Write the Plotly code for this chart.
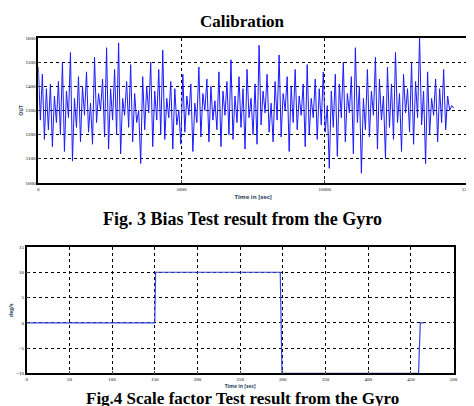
import plotly.graph_objects as go
from plotly.subplots import make_subplots

bias_values = [
    1480, 1260, 1450, 1180, 1390, 1220, 1410, 1150, 1360, 1250, 1420, 1200, 1500, 1130, 1380, 1270,
    1540, 1090, 1350, 1230, 1440, 1170, 1400, 1280, 1460, 1210, 1330, 1160, 1520, 1250, 1370, 1300,
    1430, 1190, 1560, 1140, 1390, 1260, 1470, 1200, 1580, 1120, 1350, 1280, 1420, 1230, 1490, 1170,
    1370, 1250, 1300, 1080, 1440, 1220, 1400, 1290, 1500, 1150, 1380, 1260, 1470, 1200, 1550, 1180,
    1350, 1270, 1420, 1140, 1390, 1240, 1300, 1160, 1450, 1210, 1360, 1280, 1410, 1130, 1330, 1250,
    1480, 1190, 1370, 1300, 1430, 1170, 1400, 1260, 1340, 1220, 1460, 1150, 1380, 1280, 1420, 1200,
    1510, 1180, 1360, 1250, 1440, 1230, 1390, 1140, 1470, 1270, 1350, 1200, 1410, 1160, 1570, 1240,
    1380, 1290, 1450, 1210, 1330, 1170, 1420, 1260, 1530, 1190, 1370, 1300, 1440, 1130, 1400, 1250,
    1470, 1220, 1360, 1280, 1410, 1150, 1490, 1200, 1350, 1270, 1430, 1180, 1390, 1240, 1460, 1210,
    1320, 1060, 1380, 1230, 1450, 1110, 1410, 1270, 1500, 1170, 1370, 1290, 1440, 1120, 1560, 1250,
    1400, 1040, 1350, 1220, 1470, 1190, 1380, 1280, 1520, 1140, 1430, 1260, 1360, 1100, 1480, 1230,
    1410, 1180, 1540, 1250, 1370, 1130, 1450, 1290, 1390, 1210, 1500, 1160, 1420, 1270, 1600, 1240,
    1380, 1080, 1460, 1200, 1350, 1280, 1430, 1170, 1390, 1250, 1470, 1220, 1360, 1300, 1320, 1310,
]
bias_t_end = 14500

# Fig. 4 scale factor test: step profile
step_t = [0, 150, 151, 297, 299, 459, 461, 465]
step_v = [0, 0, 10, 10, -10, -10, 0, 0]

bias_t = [i * bias_t_end / (len(bias_values) - 1) for i in range(len(bias_values))]

fig = make_subplots(rows=2, cols=1)

fig.add_trace(go.Scatter(x=bias_t, y=bias_values, mode='lines',
                         line=dict(color='#1a1aff', width=1)), row=1, col=1)
fig.add_trace(go.Scatter(x=step_t, y=step_v, mode='lines',
                         line=dict(color='#3344dd', width=1.2)), row=2, col=1)

axis_style = dict(showline=True, linecolor='black', linewidth=1.5, mirror=True,
                  showgrid=True, gridcolor='black', griddash='dot', gridwidth=1,
                  zeroline=False, ticks='inside', ticklen=3, tickformat='d',
                  tickfont=dict(size=5, family='Liberation Serif', color='black'))

fig.update_xaxes(axis_style)
fig.update_yaxes(axis_style)

fig.update_xaxes(domain=[0.063, 0.985], range=[0, 15000], dtick=5000,
                 title=dict(text='<b>Time in [sec]</b>', font=dict(size=6), standoff=4), row=1, col=1)
fig.update_yaxes(domain=[0.569, 0.93], range=[1000, 1600], dtick=100,
                 title=dict(text='<b>OUT</b>', font=dict(size=5), standoff=2), row=1, col=1)
fig.update_xaxes(domain=[0.038, 0.954], range=[0, 500], dtick=50,
                 title=dict(text='<b>Time in [sec]</b>', font=dict(size=5), standoff=3), row=2, col=1)
fig.update_yaxes(domain=[0.094, 0.409], range=[-10, 15], dtick=5,
                 title=dict(text='<b>deg/s</b>', font=dict(size=5), standoff=2), row=2, col=1)

serif = dict(family='Liberation Serif', color='black')
fig.add_annotation(text='<b>Calibration</b>', xref='paper', yref='paper', x=0.5, y=1.0,
                   yanchor='top', showarrow=False, font=dict(size=17, **serif))
fig.add_annotation(text='<b>Fig. 3 Bias Test result from the Gyro</b>', xref='paper', yref='paper',
                   x=0.5, y=0.478, showarrow=False, font=dict(size=18, **serif))
fig.add_annotation(text='<b>Fig.4 Scale factor Test result from the Gyro</b>', xref='paper',
                   yref='paper', x=0.5, y=0.003, yanchor='bottom', showarrow=False,
                   font=dict(size=17, **serif))

fig.update_layout(width=474, height=406, margin=dict(l=0, r=0, t=0, b=0),
                  showlegend=False, plot_bgcolor='white', paper_bgcolor='white')

fig.write_html("out.html")
